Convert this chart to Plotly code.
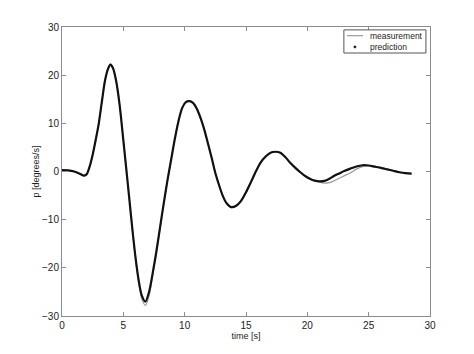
import plotly.graph_objects as go

# time samples [s]
time_s = [0, 0.5, 1.0, 1.4, 1.75, 2.0, 2.25, 2.5, 2.75, 3.0, 3.25, 3.5, 3.75, 3.95,
          4.15, 4.4, 4.7, 5.0, 5.25, 5.5, 5.75, 6.0, 6.25, 6.5, 6.8, 7.1, 7.4, 7.7,
          8.0, 8.3, 8.6, 8.9, 9.2, 9.5, 9.8, 10.1, 10.4, 10.7, 11.0, 11.3, 11.6,
          11.9, 12.2, 12.5, 12.8, 13.1, 13.4, 13.8, 14.2, 14.6, 15.0, 15.4, 15.8,
          16.2, 16.6, 17.0, 17.4, 17.8, 18.2, 18.6, 19.0, 19.4, 19.8, 20.2, 20.6,
          21.0, 21.4, 21.8, 22.2, 22.6, 23.0, 23.5, 24.0, 24.5, 25.0, 25.5, 26.0,
          26.5, 27.0, 27.5, 28.0, 28.5]

# predicted roll rate p [degrees/s]
prediction = [0.3, 0.25, 0.0, -0.4, -0.85, -0.6, 1.0, 3.5, 6.6, 10.0, 14.5, 18.8, 21.3, 22.2,
              21.5, 19.0, 13.8, 6.5, 0.3, -6.0, -12.3, -18.0, -22.6, -25.7, -27.0, -25.0,
              -21.0, -16.5, -11.5, -6.5, -1.8, 2.5, 6.8, 10.5, 13.2, 14.4, 14.6, 14.2,
              13.0, 11.1, 8.7, 5.8, 2.85, -0.3, -2.8, -5.0, -6.5, -7.4, -7.1, -6.1, -4.3,
              -2.2, 0.0, 1.9, 3.1, 3.9, 4.1, 3.9, 3.0, 1.8, 0.8, -0.1, -0.9, -1.5, -1.9,
              -2.05, -1.95, -1.5, -0.9, -0.4, 0.1, 0.6, 1.05, 1.3, 1.25, 1.0, 0.75, 0.45,
              0.15, -0.15, -0.35, -0.45]

# measured roll rate p [degrees/s]
measurement = [0.3, 0.25, 0.0, -0.4, -0.85, -0.6, 1.0, 3.5, 6.6, 10.0, 14.5, 18.8, 21.3, 22.3,
               21.6, 19.0, 13.8, 6.5, 0.3, -6.0, -12.4, -18.2, -23.0, -26.4, -27.8, -25.8,
               -21.5, -16.8, -11.7, -6.6, -1.9, 2.5, 6.8, 10.5, 13.3, 14.5, 14.7, 14.3,
               13.0, 11.1, 8.7, 5.8, 2.85, -0.3, -2.8, -5.0, -6.6, -7.5, -7.2, -6.2, -4.4,
               -2.3, -0.1, 1.8, 3.0, 3.9, 4.1, 3.9, 3.0, 1.9, 0.9, 0.0, -0.8, -1.4, -1.9,
               -2.2, -2.4, -2.3, -1.9, -1.4, -0.9, -0.3, 0.5, 1.0, 1.2, 1.05, 0.8, 0.5,
               0.2, -0.1, -0.3, -0.45]

x_ticks = [0, 5, 10, 15, 20, 25, 30]
y_ticks = [-30, -20, -10, 0, 10, 20, 30]
legend_labels = ["measurement", "prediction"]

FONT = "Arial, Liberation Sans, Helvetica, sans-serif"
AX = "#8c8c8c"
MEAS_COLOR = "#9a9a9a"
PRED_COLOR = "#111111"

fig = go.Figure()
fig.add_trace(go.Scatter(x=time_s, y=measurement, mode="lines", name=legend_labels[0],
                         showlegend=False,
                         line=dict(color=MEAS_COLOR, width=1.2, shape="spline", smoothing=0.8)))
fig.add_trace(go.Scatter(x=time_s, y=prediction, mode="lines", name=legend_labels[1],
                         showlegend=False,
                         line=dict(color=PRED_COLOR, width=2.2, shape="spline", smoothing=0.8)))

axis_common = dict(showgrid=False, zeroline=False, showline=True, mirror="ticks",
                   linecolor=AX, linewidth=1, ticks="inside", ticklen=4, tickcolor=AX,
                   tickfont=dict(family=FONT, size=10, color="#222222"))

# compact MATLAB-style legend box (paper coordinates of the plot area)
fig.add_shape(type="rect", xref="paper", yref="paper", x0=0.766, x1=0.989, y0=0.910, y1=0.990,
              line=dict(color="#555555", width=1), fillcolor="white", layer="above")
fig.add_shape(type="line", xref="paper", yref="paper", x0=0.774, x1=0.818, y0=0.970, y1=0.970,
              line=dict(color=MEAS_COLOR, width=1.2), layer="above")
fig.add_shape(type="circle", xref="paper", yref="paper", x0=0.793, x1=0.799, y0=0.927, y1=0.935,
              line=dict(color=PRED_COLOR, width=0.5), fillcolor=PRED_COLOR, layer="above")
for lbl, yy in zip(legend_labels, [0.970, 0.931]):
    fig.add_annotation(text=lbl, xref="paper", yref="paper", x=0.832, y=yy,
                       xanchor="left", yanchor="middle", showarrow=False,
                       font=dict(family=FONT, size=8.5, color="#222222"))

fig.update_layout(
    width=474, height=354,
    margin=dict(l=62, r=44, t=27, b=38),
    paper_bgcolor="white", plot_bgcolor="white",
    font=dict(family=FONT, size=10, color="#222222"),
    xaxis=dict(range=[0, 30], tickvals=x_ticks, **axis_common,
               title=dict(text="time [s]", font=dict(family=FONT, size=9), standoff=1)),
    yaxis=dict(range=[-30, 30], tickvals=y_ticks, **axis_common,
               title=dict(text="p [degrees/s]", font=dict(family=FONT, size=9), standoff=0)),
    showlegend=False,
)

fig.write_html("out.html")
